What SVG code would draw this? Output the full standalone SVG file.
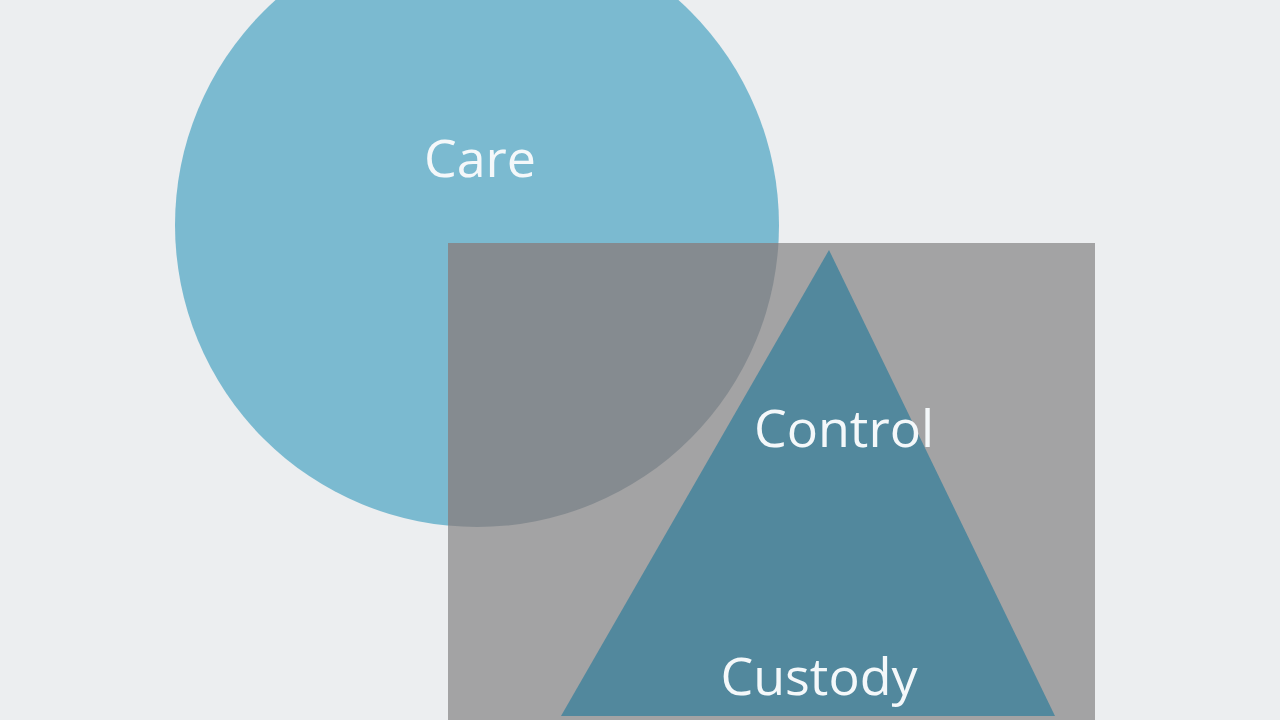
<svg xmlns="http://www.w3.org/2000/svg" width="1280" height="720" viewBox="0 0 1280 720">
  <style>
    .lbl { font-family: "Open Sans", "Liberation Sans", sans-serif; font-size: 52px; fill: #f4f8fa; text-anchor: middle; }
  </style>
  <defs>
    <clipPath id="rectClip">
      <rect x="448" y="243" width="647" height="477"/>
    </clipPath>
  </defs>
  <rect x="0" y="0" width="1280" height="720" fill="#eceef0"/>
  <g id="care">
    <circle cx="477" cy="225" r="302" fill="#7bbad0"/>
  </g>
  <g id="scope">
    <rect x="448" y="243" width="647" height="477" fill="#a3a3a4"/>
    <circle cx="477" cy="225" r="302" fill="#858b90" clip-path="url(#rectClip)"/>
  </g>
  <g id="control-custody">
    <polygon points="829,250 1055,716 561,716" fill="#52889d"/>
  </g>
  <g id="connectors"></g>
  <text class="lbl" x="480" y="177">Care</text>
  <text class="lbl" x="844" y="447">Control</text>
  <text class="lbl" x="819" y="695">Custody</text>
</svg>
